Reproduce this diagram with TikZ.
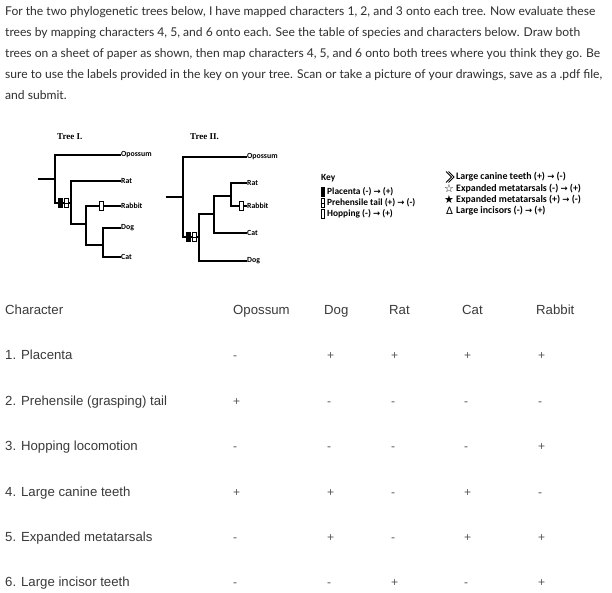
\documentclass[tikz,border=0pt]{standalone}
\usepackage{fontspec}
\setmainfont{Lato}
\newfontfamily\parafont{Lato}
\newfontfamily\tabfont{Liberation Sans}
\newfontfamily\keyfont{Carlito}
\newfontfamily\titlefont{Liberation Serif}
\newfontfamily\symfont{DejaVu Sans}
\definecolor{txt}{HTML}{2E2E2E}
\definecolor{tabtxt}{HTML}{3A3A3A}
\definecolor{sign}{HTML}{555555}
\newcommand{\myarr}{{\symfont\bfseries\fontsize{8.5}{9}\selectfont →}}
\begin{document}
\begin{tikzpicture}[x=1pt,y=-1pt,
  para/.style={anchor=base west,inner sep=0pt,font=\parafont\fontsize{12.1}{14}\selectfont,text=txt},
  tab/.style={anchor=base west,inner sep=0pt,font=\tabfont\fontsize{13.2}{15}\selectfont,text=tabtxt},
  sg/.style={anchor=base west,inner sep=0pt,font=\tabfont\fontsize{12}{14}\selectfont,text=sign},
  leaf/.style={anchor=west,inner sep=1pt,font=\keyfont\bfseries\fontsize{7.8}{8}\selectfont},
  ttl/.style={anchor=west,inner sep=0pt,font=\titlefont\bfseries\fontsize{9}{10}\selectfont},
  keyt/.style={anchor=west,inner sep=0pt,font=\keyfont\bfseries\fontsize{9.4}{10}\selectfont},
  keyr/.style={anchor=west,inner sep=0pt,font=\keyfont\bfseries\fontsize{9.9}{10}\selectfont},
  br/.style={line width=1.4pt,line cap=rect},
  mk/.style={line width=0.9pt,fill=white},
  symb/.style={anchor=west,inner sep=0pt,font=\symfont\fontsize{11}{11}\selectfont},
]
\useasboundingbox (0,0) rectangle (612,593);
\fill[white] (0,0) rectangle (612,593);

% paragraph
\node[para] (p1) at (5,16) {For the two phylogenetic trees below, I have mapped characters 1, 2, and 3 onto each tree. Now evaluate these};
\node[para] (p2) at (5,37) {trees by mapping characters 4, 5, and 6 onto each. See the table of species and characters below. Draw both};
\node[para] (p3) at (5,58) {trees on a sheet of paper as shown, then map characters 4, 5, and 6 onto both trees where you think they go. Be};
\node[para] (p4) at (5,79) {sure to use the labels provided in the key on your tree. Scan or take a picture of your drawings, save as a .pdf file,};
\node[para] (p5) at (5,100) {and submit.};

% ---------- Tree I ----------
\node[ttl] (t1) at (57,137) {Tree I.};
\coordinate (rI) at (39,179);
\coordinate (a1) at (55,179);
\coordinate (a2) at (71,203);
\coordinate (a3) at (86,224);
\coordinate (a4) at (103,245);
\node[leaf] (opI) at (120,155) {Opossum};
\node[leaf] (ratI) at (120,181) {Rat};
\node[leaf] (rabI) at (120,206) {Rabbit};
\node[leaf] (dogI) at (120,228) {Dog};
\node[leaf] (catI) at (120,257) {Cat};
\draw[br] (rI) -- (a1);
\draw[br] (a1) |- (opI.west);
\draw[br] (a1) |- (a2);
\draw[br] (a2) |- (ratI.west);
\draw[br] (a2) |- (a3);
\draw[br] (a3) |- (rabI.west);
\draw[br] (a3) |- (a4);
\draw[br] (a4) |- (dogI.west);
\draw[br] (a4) |- (catI.west);
% marks tree I
\draw[mk,fill=black] (58.5,198.5) rectangle (62.5,207.5);
\draw[mk] (64.5,198.5) rectangle (68.5,207.5); \draw[line width=0.9pt] (64.5,203) -- (68.5,203);
\draw[mk] (99.5,201.5) rectangle (103,210.5);

% ---------- Tree II ----------
\node[ttl] (t2) at (190,137) {Tree II.};
\coordinate (rII) at (167,197);
\coordinate (b1) at (183,197);
\coordinate (b2) at (199,237);
\coordinate (b3) at (214,214);
\coordinate (b4) at (231,196);
\node[leaf] (opII) at (246,157) {Opossum};
\node[leaf] (ratII) at (246,183) {Rat};
\node[leaf] (rabII) at (246,206) {Rabbit};
\node[leaf] (catII) at (246,233) {Cat};
\node[leaf] (dogII) at (246,261) {Dog};
\draw[br] (rII) -- (b1);
\draw[br] (b1) |- (opII.west);
\draw[br] (b1) |- (b2);
\draw[br] (b2) |- (dogII.west);
\draw[br] (b2) |- (b3);
\draw[br] (b3) |- (catII.west);
\draw[br] (b3) |- (b4);
\draw[br] (b4) |- (ratII.west);
\draw[br] (b4) |- (rabII.west);
% marks tree II
\draw[mk,fill=black] (186.5,232.5) rectangle (190.5,241.5);
\draw[mk] (192.5,232.5) rectangle (196.5,241.5); \draw[line width=0.9pt] (192.5,237) -- (196.5,237);
\draw[mk] (239.5,201.5) rectangle (243,210.5);

% ---------- Key ----------
\node[keyt] (key) at (321,178) {Key};
\draw[mk,fill=black] (321.5,187.5) rectangle (324.5,196);
\node[keyt] (k1) at (327,192) {Placenta (-) \myarr{} (+)};
\draw[mk] (321.5,198.5) rectangle (324.5,207.5); \draw[line width=0.9pt] (321.5,203) -- (324.5,203);
\node[keyt] (k2) at (327,203) {Prehensile tail (+) \myarr{} (-)};
\draw[mk] (321.5,209.5) rectangle (324.5,218.5);
\node[keyt] (k3) at (327,214) {Hopping (-) \myarr{} (+)};

\draw[line width=1pt,line join=miter] (446,171.5) -- (451.5,177) -- (446,182.5);
\draw[line width=1pt,line join=miter] (448.5,171.5) -- (454,177) -- (448.5,182.5);
\node[keyr] (k4) at (456,177) {Large canine teeth (+) \myarr{} (-)};
\node[symb] (s1) at (444,189) {☆};
\node[keyr] (k5) at (456,189) {Expanded metatarsals (-) \myarr{} (+)};
\node[symb] (s2) at (444,200) {★};
\node[keyr] (k6) at (456,200) {Expanded metatarsals (+) \myarr{} (-)};
\node[symb,font=\symfont\fontsize{10}{10}\selectfont] (s3) at (446,211) {Δ};
\node[keyr] (k7) at (456,211) {Large incisors (-) \myarr{} (+)};

% ---------- Table ----------
\node[tab] (hc) at (5,314) {Character};
\node[tab] (ho) at (233,314) {Opossum};
\node[tab] (hd) at (324,314) {Dog};
\node[tab] (hr) at (389,314) {Rat};
\node[tab] (hca) at (462,314) {Cat};
\node[tab] (hra) at (536,314) {Rabbit};

\node[tab] (c1) at (5,359) {1. Placenta};
\node[tab] (c2) at (5,405) {2. Prehensile (grasping) tail};
\node[tab] (c3) at (5,450) {3. Hopping locomotion};
\node[tab] (c4) at (5,496) {4. Large canine teeth};
\node[tab] (c5) at (5,541) {5. Expanded metatarsals};
\node[tab] (c6) at (5,586) {6. Large incisor teeth};

\foreach \y/\o/\d/\r/\c/\b [count=\i] in {359/-/+/+/+/+, 405/+/-/-/-/-, 450/-/-/-/-/+, 496/+/+/-/+/-, 541/-/+/-/+/+, 586/-/-/+/-/+}{
  \node[sg] (v\i o) at (233,\y) {\o};
  \node[sg] (v\i d) at (327,\y) {\d};
  \node[sg] (v\i r) at (391,\y) {\r};
  \node[sg] (v\i c) at (464,\y) {\c};
  \node[sg] (v\i b) at (538,\y) {\b};
}
\end{tikzpicture}
\end{document}
